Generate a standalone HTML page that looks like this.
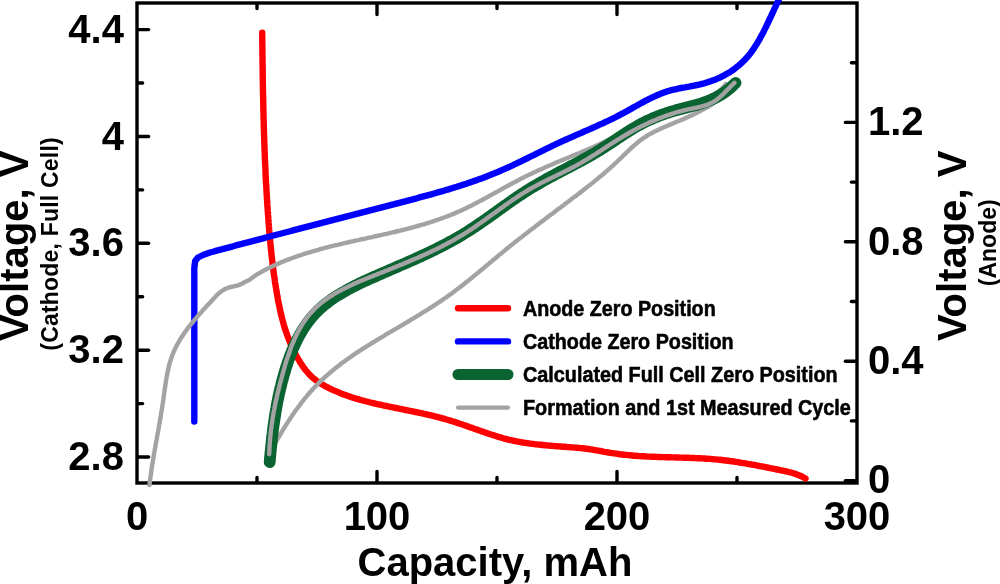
<!DOCTYPE html><html><head><meta charset="utf-8"><title>chart</title><style>html,body{margin:0;padding:0;background:#fff}svg{display:block}text{font-family:"Liberation Sans",sans-serif;font-weight:bold;fill:#000}</style></head><body>
<svg width="1000" height="584" viewBox="0 0 1000 584">
<rect width="1000" height="584" fill="#fff"/>
<g stroke="#000" stroke-width="3.4" fill="none" stroke-linecap="round">
<rect x="137" y="3" width="720" height="480"/>
<path d="M257.0 481.5 V477.4 M257.0 4.5 V8.6"/>
<path d="M377.0 481.5 V471.4 M377.0 4.5 V14.6"/>
<path d="M497.0 481.5 V477.4 M497.0 4.5 V8.6"/>
<path d="M617.0 481.5 V471.4 M617.0 4.5 V14.6"/>
<path d="M737.0 481.5 V477.4 M737.0 4.5 V8.6"/>
<path d="M138.5 457.0 H148.6"/>
<path d="M138.5 403.6 H142.6"/>
<path d="M138.5 350.2 H148.6"/>
<path d="M138.5 296.7 H142.6"/>
<path d="M138.5 243.3 H148.6"/>
<path d="M138.5 189.9 H142.6"/>
<path d="M138.5 136.5 H148.6"/>
<path d="M138.5 83.0 H142.6"/>
<path d="M138.5 29.6 H148.6"/>
<path d="M855.5 480.6 H845.4"/>
<path d="M855.5 420.9 H851.4"/>
<path d="M855.5 361.2 H845.4"/>
<path d="M855.5 301.5 H851.4"/>
<path d="M855.5 241.8 H845.4"/>
<path d="M855.5 182.1 H851.4"/>
<path d="M855.5 122.4 H845.4"/>
<path d="M855.5 62.7 H851.4"/>
</g>
<path d="M262.2 32.7L262.2 34.7L262.2 36.7L262.3 38.7L262.3 40.7L262.3 42.7L262.3 44.7L262.4 46.7L262.4 48.7L262.4 50.7L262.4 52.7L262.4 54.7L262.5 56.7L262.5 58.7L262.5 60.7L262.5 62.7L262.6 64.7L262.6 66.7L262.6 68.7L262.7 70.7L262.7 72.7L262.7 74.7L262.7 76.7L262.8 78.7L262.8 80.7L262.8 82.7L262.9 84.7L262.9 86.7L262.9 88.7L263.0 90.7L263.0 92.7L263.1 94.7L263.1 96.7L263.1 98.7L263.2 100.7L263.2 102.7L263.3 104.7L263.3 106.7L263.4 108.7L263.4 110.7L263.5 112.7L263.5 114.7L263.5 116.7L263.6 118.7L263.7 120.7L263.7 122.7L263.8 124.7L263.8 126.6L263.9 128.6L263.9 130.6L264.0 132.6L264.1 134.6L264.1 136.6L264.2 138.6L264.3 140.6L264.3 142.6L264.4 144.6L264.5 146.6L264.5 148.6L264.6 150.6L264.7 152.6L264.8 154.6L264.8 156.6L264.9 158.6L265.0 160.6L265.1 162.6L265.2 164.6L265.3 166.6L265.4 168.6L265.5 170.6L265.5 172.6L265.6 174.6L265.7 176.6L265.8 178.6L265.9 180.6L266.0 182.6L266.2 184.6L266.3 186.6L266.4 188.6L266.5 190.6L266.6 192.6L266.7 194.6L266.8 196.6L267.0 198.6L267.1 200.5L267.2 202.5L267.3 204.5L267.5 206.5L267.6 208.5L267.7 210.5L267.9 212.5L268.0 214.5L268.2 216.5L268.3 218.5L268.5 220.5L268.6 222.5L268.8 224.5L268.9 226.5L269.1 228.5L269.2 230.5L269.4 232.4L269.6 234.4L269.7 236.4L269.9 238.4L270.1 240.4L270.3 242.4L270.5 244.4L270.7 246.4L270.9 248.4L271.1 250.4L271.3 252.3L271.5 254.3L271.7 256.3L271.9 258.3L272.2 260.3L272.4 262.3L272.6 264.3L272.9 266.2L273.1 268.2L273.4 270.2L273.6 272.2L273.9 274.2L274.2 276.2L274.5 278.1L274.8 280.1L275.0 282.1L275.3 284.1L275.7 286.0L276.0 288.0L276.3 290.0L276.6 292.0L277.0 293.9L277.3 295.9L277.7 297.9L278.0 299.8L278.4 301.8L278.8 303.8L279.2 305.7L279.6 307.7L280.0 309.7L280.4 311.6L280.9 313.6L281.4 315.5L281.8 317.4L282.3 319.4L282.9 321.3L283.4 323.2L283.9 325.1L284.5 327.1L285.1 329.0L285.7 330.9L286.4 332.7L287.0 334.6L287.7 336.5L288.4 338.4L289.1 340.2L289.9 342.1L290.6 343.9L291.4 345.8L292.3 347.6L293.1 349.4L294.0 351.2L294.9 353.0L295.8 354.8L296.8 356.5L297.8 358.3L298.8 360.0L299.8 361.7L300.9 363.4L302.0 365.1L303.1 366.8L304.3 368.4L305.5 370.0L306.8 371.5L308.1 373.0L309.4 374.5L310.8 375.9L312.3 377.3L313.8 378.6L315.3 379.8L316.9 381.0L318.5 382.2L320.2 383.3L321.9 384.3L323.7 385.3L325.4 386.3L327.2 387.2L329.0 388.1L330.8 389.0L332.6 389.8L334.4 390.6L336.3 391.4L338.1 392.2L340.0 393.0L341.8 393.7L343.7 394.4L345.5 395.1L347.4 395.8L349.3 396.4L351.2 397.1L353.1 397.7L355.0 398.3L356.9 398.8L358.8 399.4L360.8 400.0L362.7 400.5L364.6 401.0L366.6 401.5L368.5 402.0L370.5 402.5L372.4 403.0L374.4 403.4L376.3 403.9L378.3 404.3L380.2 404.7L382.2 405.2L384.1 405.6L386.1 406.0L388.1 406.4L390.0 406.8L392.0 407.2L394.0 407.6L395.9 408.0L397.9 408.4L399.9 408.8L401.8 409.2L403.8 409.6L405.7 410.0L407.7 410.4L409.7 410.8L411.6 411.2L413.6 411.6L415.5 412.0L417.5 412.4L419.4 412.8L421.4 413.2L423.3 413.7L425.2 414.1L427.2 414.5L429.1 415.0L431.1 415.4L433.0 415.9L434.9 416.4L436.8 416.9L438.8 417.4L440.7 417.9L442.6 418.4L444.5 418.9L446.4 419.5L448.4 420.0L450.3 420.6L452.2 421.2L454.1 421.8L456.0 422.4L457.9 423.1L459.8 423.7L461.7 424.3L463.6 425.0L465.5 425.6L467.3 426.3L469.2 427.0L471.1 427.6L473.0 428.3L474.9 429.0L476.8 429.6L478.7 430.3L480.6 431.0L482.5 431.6L484.4 432.3L486.3 432.9L488.2 433.6L490.1 434.2L492.0 434.8L493.9 435.4L495.8 436.0L497.7 436.6L499.6 437.2L501.5 437.7L503.5 438.3L505.4 438.8L507.3 439.3L509.3 439.8L511.2 440.2L513.2 440.6L515.1 441.1L517.1 441.4L519.0 441.8L521.0 442.2L523.0 442.5L524.9 442.8L526.9 443.1L528.9 443.4L530.9 443.7L532.9 443.9L534.8 444.2L536.8 444.4L538.8 444.6L540.8 444.8L542.8 445.0L544.8 445.2L546.8 445.4L548.8 445.6L550.8 445.7L552.8 445.9L554.8 446.1L556.8 446.2L558.8 446.4L560.8 446.5L562.8 446.7L564.8 446.8L566.8 447.0L568.8 447.1L570.7 447.3L572.7 447.4L574.7 447.6L576.7 447.7L578.7 447.9L580.7 448.1L582.6 448.3L584.6 448.5L586.6 448.8L588.6 449.0L590.5 449.3L592.5 449.6L594.5 450.0L596.5 450.3L598.4 450.7L600.4 451.0L602.4 451.4L604.3 451.8L606.3 452.1L608.3 452.5L610.3 452.8L612.2 453.1L614.2 453.4L616.2 453.7L618.2 454.0L620.1 454.3L622.1 454.5L624.1 454.7L626.1 454.9L628.1 455.1L630.1 455.3L632.1 455.5L634.0 455.7L636.0 455.8L638.0 456.0L640.0 456.1L642.0 456.2L644.0 456.3L646.0 456.5L648.0 456.6L650.0 456.6L652.0 456.7L654.0 456.8L656.0 456.9L658.0 457.0L660.0 457.0L662.0 457.1L664.0 457.1L666.0 457.2L668.0 457.3L670.0 457.3L672.0 457.4L674.0 457.4L676.0 457.5L678.0 457.5L680.0 457.6L682.0 457.6L684.0 457.7L686.0 457.8L688.0 457.8L690.0 457.9L692.0 458.0L694.0 458.0L695.9 458.1L697.9 458.2L699.9 458.3L701.9 458.4L703.9 458.5L705.9 458.7L707.9 458.8L709.9 458.9L711.9 459.1L713.9 459.3L715.9 459.4L717.9 459.6L719.9 459.8L721.9 460.0L723.8 460.3L725.8 460.5L727.8 460.7L729.8 461.0L731.8 461.3L733.8 461.5L735.7 461.8L737.7 462.1L739.7 462.5L741.7 462.8L743.6 463.1L745.6 463.4L747.6 463.8L749.6 464.1L751.5 464.5L753.5 464.8L755.5 465.2L757.4 465.6L759.4 466.0L761.4 466.3L763.3 466.7L765.3 467.1L767.3 467.5L769.2 467.9L771.2 468.3L773.1 468.7L775.1 469.1L777.1 469.5L779.0 469.9L781.0 470.3L782.9 470.7L784.9 471.1L786.8 471.5L788.7 472.0L790.7 472.5L792.6 473.0L794.5 473.6L796.4 474.2L798.2 474.9L800.1 475.7L801.9 476.5L803.7 477.5L805.5 478.5" fill="none" stroke="#ff0000" stroke-width="6.4" stroke-linecap="round" stroke-linejoin="round" />
<path d="M194.3 421.5L194.3 300.0L194.3 268.0L195.2 261.0L198.0 257.5L203.0 255.0L210.0 252.5L211.9 252.0L213.9 251.5L215.8 250.9L217.7 250.4L219.6 249.9L221.6 249.4L223.5 248.8L225.4 248.3L227.4 247.8L229.3 247.3L231.2 246.8L233.1 246.3L235.1 245.7L237.0 245.2L238.9 244.7L240.9 244.2L242.8 243.7L244.7 243.2L246.6 242.7L248.6 242.1L250.5 241.6L252.4 241.1L254.4 240.6L256.3 240.1L258.2 239.6L260.1 239.1L262.1 238.6L264.0 238.1L265.9 237.5L267.9 237.0L269.8 236.5L271.7 236.0L273.7 235.5L275.6 235.0L277.5 234.5L279.5 234.0L281.4 233.5L283.3 233.0L285.2 232.5L287.2 232.0L289.1 231.5L291.0 231.0L293.0 230.4L294.9 229.9L296.8 229.4L298.8 228.9L300.7 228.4L302.6 227.9L304.6 227.4L306.5 226.9L308.4 226.4L310.3 225.9L312.3 225.4L314.2 224.9L316.1 224.4L318.1 223.9L320.0 223.4L321.9 222.9L323.9 222.4L325.8 221.9L327.7 221.4L329.7 220.9L331.6 220.4L333.5 219.9L335.5 219.4L337.4 218.9L339.3 218.4L341.3 217.9L343.2 217.4L345.1 216.9L347.1 216.4L349.0 215.9L350.9 215.4L352.9 214.9L354.8 214.4L356.7 213.9L358.7 213.4L360.6 212.9L362.5 212.4L364.5 211.9L366.4 211.4L368.3 210.9L370.2 210.4L372.2 209.9L374.1 209.4L376.0 208.9L378.0 208.4L379.9 207.9L381.8 207.4L383.8 206.9L385.7 206.4L387.7 205.8L389.6 205.3L391.5 204.8L393.5 204.3L395.4 203.8L397.3 203.3L399.3 202.8L401.2 202.3L403.1 201.8L405.1 201.3L407.0 200.8L408.9 200.3L410.9 199.8L412.8 199.3L414.7 198.8L416.7 198.3L418.6 197.7L420.5 197.2L422.4 196.7L424.4 196.2L426.3 195.7L428.2 195.1L430.2 194.6L432.1 194.1L434.0 193.5L435.9 193.0L437.8 192.4L439.8 191.9L441.7 191.3L443.6 190.8L445.5 190.2L447.4 189.7L449.3 189.1L451.2 188.5L453.2 187.9L455.1 187.3L457.0 186.7L458.9 186.1L460.8 185.5L462.7 184.9L464.6 184.3L466.4 183.7L468.3 183.0L470.2 182.4L472.1 181.8L474.0 181.1L475.9 180.4L477.7 179.8L479.6 179.1L481.5 178.4L483.3 177.7L485.2 177.0L487.1 176.3L488.9 175.6L490.8 174.8L492.6 174.1L494.5 173.3L496.3 172.6L498.1 171.8L500.0 171.0L501.8 170.2L503.6 169.4L505.4 168.6L507.3 167.8L509.1 167.0L510.9 166.1L512.7 165.3L514.5 164.4L516.3 163.6L518.1 162.7L519.9 161.8L521.7 161.0L523.5 160.1L525.3 159.2L527.1 158.3L528.9 157.4L530.7 156.5L532.5 155.6L534.3 154.8L536.1 153.9L537.9 153.0L539.7 152.1L541.5 151.2L543.3 150.3L545.1 149.4L546.9 148.5L548.7 147.7L550.5 146.8L552.3 145.9L554.1 145.1L555.9 144.2L557.7 143.4L559.5 142.5L561.3 141.7L563.1 140.8L564.9 140.0L566.8 139.2L568.6 138.4L570.4 137.6L572.2 136.8L574.1 136.0L575.9 135.2L577.7 134.4L579.6 133.6L581.4 132.8L583.2 132.0L585.0 131.2L586.9 130.4L588.7 129.6L590.5 128.8L592.4 128.0L594.2 127.2L596.0 126.4L597.8 125.5L599.6 124.7L601.5 123.9L603.3 123.1L605.1 122.2L606.9 121.4L608.7 120.5L610.5 119.6L612.3 118.8L614.1 117.9L615.9 117.0L617.6 116.1L619.4 115.1L621.2 114.2L622.9 113.3L624.7 112.3L626.5 111.4L628.2 110.4L630.0 109.4L631.7 108.4L633.5 107.4L635.2 106.5L637.0 105.5L638.7 104.5L640.5 103.5L642.2 102.6L644.0 101.6L645.7 100.7L647.5 99.8L649.3 98.9L651.1 98.0L652.9 97.2L654.7 96.3L656.5 95.5L658.3 94.7L660.1 94.0L662.0 93.3L663.9 92.6L665.7 91.9L667.6 91.3L669.5 90.7L671.4 90.2L673.4 89.7L675.3 89.3L677.3 88.8L679.2 88.4L681.2 88.0L683.2 87.6L685.2 87.3L687.2 86.9L689.2 86.6L691.1 86.2L693.1 85.8L695.1 85.4L697.1 85.0L699.1 84.6L701.0 84.1L703.0 83.6L704.9 83.1L706.8 82.5L708.7 81.9L710.6 81.3L712.5 80.6L714.3 79.9L716.2 79.2L718.0 78.4L719.8 77.6L721.6 76.7L723.3 75.8L725.0 74.9L726.8 73.9L728.4 72.9L730.1 71.9L731.7 70.8L733.4 69.7L734.9 68.5L736.5 67.3L738.0 66.1L739.5 64.8L741.0 63.5L742.4 62.2L743.8 60.8L745.2 59.4L746.5 57.9L747.8 56.5L749.1 54.9L750.3 53.4L751.5 51.8L752.7 50.1L753.8 48.5L754.9 46.8L756.0 45.1L757.1 43.4L758.1 41.6L759.2 39.9L760.2 38.1L761.1 36.3L762.1 34.5L763.1 32.7L764.0 30.9L764.9 29.0L765.8 27.2L766.7 25.3L767.6 23.5L768.5 21.7L769.3 19.8L770.2 18.0L771.1 16.1L771.9 14.3L772.8 12.5L773.6 10.7L774.4 8.9L775.3 7.1L776.1 5.3L777.0 3.5L777.8 1.7L778.6 -0.0L779.5 -1.8L780.3 -3.5L781.2 -5.3L782.0 -7.0" fill="none" stroke="#0000ff" stroke-width="6.4" stroke-linecap="round" stroke-linejoin="round" />
<path d="M149.5 485.0L149.7 483.0L150.0 480.9L150.2 478.9L150.5 476.9L150.8 474.9L151.1 472.9L151.3 470.9L151.6 468.9L151.9 466.9L152.2 464.9L152.6 463.0L152.9 461.0L153.2 459.0L153.5 457.1L153.8 455.1L154.2 453.2L154.5 451.3L154.8 449.3L155.2 447.4L155.5 445.4L155.9 443.5L156.2 441.6L156.6 439.7L156.9 437.7L157.3 435.8L157.6 433.9L158.0 431.9L158.3 430.0L158.7 428.1L159.0 426.1L159.3 424.2L159.7 422.2L160.0 420.3L160.4 418.3L160.7 416.4L161.0 414.4L161.3 412.5L161.7 410.5L162.0 408.5L162.3 406.5L162.6 404.5L162.9 402.5L163.2 400.5L163.5 398.5L163.7 396.5L164.0 394.5L164.3 392.5L164.6 390.4L164.9 388.4L165.2 386.4L165.5 384.3L165.8 382.3L166.1 380.3L166.4 378.2L166.8 376.2L167.2 374.2L167.6 372.2L168.0 370.2L168.4 368.3L168.9 366.3L169.4 364.4L169.9 362.4L170.5 360.5L171.1 358.6L171.8 356.8L172.4 354.9L173.2 353.1L173.9 351.3L174.7 349.5L175.6 347.7L176.5 346.0L177.4 344.3L178.3 342.6L179.3 340.9L180.3 339.2L181.3 337.5L182.4 335.9L183.5 334.3L184.6 332.6L185.8 331.0L186.9 329.5L188.1 327.9L189.3 326.3L190.5 324.7L191.8 323.2L193.1 321.7L194.3 320.1L195.6 318.6L196.9 317.1L198.2 315.6L199.6 314.1L200.9 312.6L202.2 311.1L203.6 309.6L205.0 308.1L206.3 306.6L207.7 305.1L209.0 303.7L210.4 302.2L211.7 300.7L213.1 299.2L214.5 297.7L215.8 296.3L217.2 294.9L218.7 293.5L220.2 292.2L221.8 291.0L223.4 290.0L225.2 289.0L227.0 288.2L228.9 287.5L230.8 287.0L232.8 286.6L234.7 286.1L236.7 285.7L238.6 285.1L240.4 284.4L242.2 283.5L244.0 282.5L245.8 281.6L247.6 280.8L249.4 279.9L251.0 278.8L252.6 277.6L254.2 276.3L255.8 275.2L257.5 274.1L259.2 273.1L261.0 272.1L262.7 271.2L264.5 270.2L266.3 269.3L268.0 268.4L269.8 267.5L271.6 266.7L273.4 265.8L275.2 265.0L277.0 264.2L278.9 263.4L280.7 262.6L282.5 261.8L284.4 261.1L286.2 260.3L288.1 259.6L289.9 258.9L291.8 258.2L293.6 257.5L295.5 256.9L297.4 256.2L299.3 255.6L301.2 255.0L303.1 254.3L304.9 253.7L306.8 253.1L308.8 252.5L310.7 252.0L312.6 251.4L314.5 250.8L316.4 250.3L318.3 249.8L320.3 249.2L322.2 248.7L324.1 248.2L326.1 247.7L328.0 247.2L329.9 246.7L331.9 246.2L333.8 245.7L335.8 245.2L337.7 244.8L339.6 244.3L341.6 243.8L343.6 243.4L345.5 242.9L347.5 242.5L349.4 242.0L351.4 241.6L353.3 241.2L355.3 240.7L357.2 240.3L359.2 239.9L361.2 239.4L363.1 239.0L365.1 238.6L367.0 238.1L369.0 237.7L371.0 237.3L372.9 236.8L374.9 236.4L376.8 236.0L378.8 235.5L380.8 235.1L382.7 234.7L384.7 234.2L386.6 233.8L388.6 233.3L390.5 232.9L392.5 232.4L394.4 232.0L396.4 231.5L398.3 231.0L400.3 230.6L402.2 230.1L404.1 229.6L406.1 229.1L408.0 228.6L409.9 228.1L411.9 227.6L413.8 227.1L415.7 226.5L417.6 226.0L419.5 225.5L421.5 224.9L423.4 224.4L425.3 223.8L427.2 223.2L429.1 222.6L431.0 222.0L432.9 221.4L434.7 220.8L436.6 220.1L438.5 219.5L440.4 218.8L442.2 218.2L444.1 217.5L446.0 216.8L447.8 216.1L449.7 215.4L451.5 214.6L453.3 213.9L455.2 213.1L457.0 212.3L458.8 211.5L460.6 210.7L462.4 209.9L464.2 209.1L466.0 208.2L467.8 207.3L469.6 206.4L471.4 205.6L473.2 204.7L474.9 203.7L476.7 202.8L478.5 201.9L480.3 200.9L482.0 200.0L483.8 199.0L485.5 198.1L487.3 197.1L489.0 196.2L490.8 195.2L492.6 194.2L494.3 193.2L496.1 192.3L497.8 191.3L499.6 190.3L501.3 189.3L503.1 188.4L504.8 187.4L506.6 186.4L508.3 185.5L510.1 184.5L511.9 183.6L513.6 182.6L515.4 181.7L517.2 180.8L518.9 179.8L520.7 178.9L522.5 178.0L524.3 177.1L526.1 176.3L527.8 175.4L529.6 174.5L531.4 173.7L533.2 172.8L535.0 172.0L536.8 171.1L538.6 170.3L540.5 169.5L542.3 168.7L544.1 167.9L545.9 167.0L547.7 166.2L549.5 165.5L551.4 164.7L553.2 163.9L555.0 163.1L556.8 162.3L558.7 161.5L560.5 160.8L562.3 160.0L564.2 159.2L566.0 158.5L567.9 157.7L569.7 157.0L571.5 156.2L573.4 155.4L575.2 154.7L577.1 153.9L578.9 153.2L580.7 152.4L582.6 151.6L584.4 150.8L586.2 150.0L588.1 149.3L589.9 148.5L591.7 147.7L593.5 146.9L595.4 146.0L597.2 145.2L599.0 144.4L600.8 143.5L602.6 142.7L604.4 141.8L606.2 140.9L608.0 140.0L609.8 139.1L611.6 138.2L613.3 137.3L615.1 136.4L616.9 135.5L618.7 134.5L620.4 133.6L622.2 132.7L624.0 131.7L625.7 130.8L627.5 129.8L629.2 128.9L631.0 127.9L632.8 127.0L634.5 126.0L636.3 125.0L638.0 124.1L639.8 123.1L641.5 122.2L643.3 121.2L645.0 120.3L646.8 119.4L648.6 118.4L650.3 117.5L652.1 116.6L653.8 115.7L655.6 114.8L657.4 113.9L659.2 113.1L661.0 112.2L662.8 111.5L664.6 110.7L666.5 110.0L668.4 109.3L670.3 108.7L672.2 108.1L674.1 107.5L676.1 107.0L678.0 106.5L680.0 106.0L681.9 105.5L683.9 105.0L685.9 104.5L687.8 104.0L689.8 103.5L691.7 103.0L693.7 102.5L695.6 101.9L697.5 101.4L699.5 100.8L701.3 100.2L703.2 99.5L705.1 98.8L706.9 98.1L708.7 97.3L710.4 96.4L712.2 95.5L713.9 94.6L715.5 93.5L717.2 92.4L718.8 91.2L720.3 90.0L721.8 88.6L723.3 87.2L724.7 85.6L726.0 84.0" fill="none" stroke="#a3a3a3" stroke-width="4.4" stroke-linecap="round" stroke-linejoin="round" />
<path d="M269.2 454.2L270.1 452.5L271.1 450.7L272.0 449.0L273.0 447.2L273.9 445.5L274.9 443.8L275.9 442.0L276.9 440.3L277.9 438.5L278.9 436.8L279.9 435.1L280.9 433.4L281.9 431.6L283.0 429.9L284.0 428.2L285.1 426.5L286.1 424.8L287.2 423.1L288.3 421.4L289.4 419.7L290.5 418.1L291.6 416.4L292.7 414.7L293.9 413.1L295.0 411.4L296.2 409.8L297.4 408.2L298.6 406.6L299.8 405.0L301.0 403.4L302.2 401.8L303.4 400.2L304.7 398.6L306.0 397.1L307.2 395.6L308.5 394.0L309.8 392.5L311.2 391.0L312.5 389.5L313.8 388.1L315.2 386.6L316.6 385.2L318.0 383.8L319.4 382.4L320.8 381.0L322.2 379.6L323.7 378.3L325.1 376.9L326.6 375.6L328.1 374.3L329.6 373.0L331.1 371.7L332.7 370.4L334.2 369.2L335.8 367.9L337.3 366.7L338.9 365.5L340.5 364.2L342.1 363.0L343.7 361.9L345.3 360.7L346.9 359.5L348.5 358.4L350.2 357.2L351.8 356.1L353.5 354.9L355.1 353.8L356.8 352.7L358.5 351.6L360.2 350.5L361.8 349.4L363.5 348.3L365.2 347.3L366.9 346.2L368.6 345.1L370.3 344.1L372.0 343.0L373.8 342.0L375.5 340.9L377.2 339.9L378.9 338.9L380.6 337.8L382.3 336.8L384.1 335.8L385.8 334.7L387.5 333.7L389.2 332.7L391.0 331.7L392.7 330.7L394.4 329.6L396.1 328.6L397.9 327.6L399.6 326.6L401.3 325.6L403.0 324.6L404.7 323.5L406.5 322.5L408.2 321.5L409.9 320.5L411.6 319.4L413.3 318.4L415.0 317.4L416.7 316.4L418.4 315.3L420.1 314.3L421.8 313.2L423.5 312.2L425.2 311.1L426.9 310.1L428.6 309.0L430.3 307.9L431.9 306.9L433.6 305.8L435.3 304.7L436.9 303.6L438.6 302.5L440.2 301.4L441.9 300.3L443.5 299.1L445.2 298.0L446.8 296.9L448.4 295.7L450.1 294.6L451.7 293.4L453.3 292.2L454.9 291.0L456.5 289.8L458.1 288.6L459.6 287.4L461.2 286.2L462.8 285.0L464.4 283.7L465.9 282.5L467.5 281.2L469.1 280.0L470.6 278.7L472.2 277.5L473.7 276.2L475.3 274.9L476.8 273.7L478.4 272.4L479.9 271.1L481.5 269.8L483.0 268.6L484.5 267.3L486.1 266.0L487.6 264.7L489.2 263.4L490.7 262.1L492.2 260.8L493.8 259.6L495.3 258.3L496.9 257.0L498.4 255.7L499.9 254.4L501.5 253.2L503.0 251.9L504.6 250.6L506.1 249.3L507.7 248.1L509.2 246.8L510.8 245.6L512.4 244.3L513.9 243.1L515.5 241.8L517.1 240.6L518.6 239.4L520.2 238.1L521.8 236.9L523.3 235.7L524.9 234.4L526.5 233.2L528.1 232.0L529.7 230.8L531.2 229.6L532.8 228.4L534.4 227.2L536.0 225.9L537.6 224.7L539.2 223.5L540.8 222.3L542.4 221.1L544.0 219.9L545.5 218.7L547.1 217.5L548.7 216.3L550.3 215.1L551.9 213.9L553.5 212.7L555.1 211.5L556.7 210.3L558.3 209.1L559.9 207.9L561.5 206.7L563.1 205.5L564.7 204.3L566.3 203.1L567.8 201.9L569.4 200.7L571.0 199.5L572.6 198.3L574.2 197.1L575.8 195.9L577.4 194.7L579.0 193.5L580.6 192.2L582.1 191.0L583.7 189.8L585.3 188.6L586.9 187.3L588.4 186.1L590.0 184.9L591.6 183.6L593.1 182.4L594.7 181.1L596.2 179.9L597.8 178.6L599.3 177.3L600.8 176.1L602.4 174.8L603.9 173.5L605.4 172.2L606.9 170.9L608.4 169.6L609.9 168.3L611.4 166.9L612.9 165.6L614.3 164.2L615.8 162.9L617.3 161.5L618.7 160.2L620.1 158.8L621.6 157.4L623.0 156.0L624.4 154.6L625.8 153.2L627.3 151.8L628.7 150.4L630.1 149.1L631.6 147.7L633.0 146.4L634.5 145.1L636.0 143.8L637.5 142.5L639.1 141.3L640.7 140.1L642.3 138.9L643.9 137.8L645.5 136.8L647.2 135.7L648.9 134.7L650.6 133.7L652.4 132.8L654.1 131.8L655.9 130.9L657.7 130.1L659.5 129.2L661.4 128.4L663.2 127.5L665.1 126.7L666.9 125.9L668.8 125.1L670.6 124.4L672.5 123.6L674.4 122.8L676.2 122.0L678.1 121.3L680.0 120.5L681.9 119.7L683.7 118.9L685.6 118.1L687.4 117.3L689.2 116.4L691.1 115.6L692.9 114.7L694.7 113.9L696.5 113.0L698.3 112.1L700.0 111.2L701.8 110.2L703.5 109.3L705.3 108.3L707.0 107.3L708.7 106.3L710.4 105.2L712.0 104.1L713.6 103.0L715.3 101.9L716.9 100.7L718.4 99.5L720.0 98.3L721.5 97.0L723.0 95.7L724.5 94.4L725.9 93.0L727.3 91.6L728.7 90.2L730.1 88.7L731.4 87.2L732.7 85.6L734.0 84.0" fill="none" stroke="#a3a3a3" stroke-width="4.4" stroke-linecap="round" stroke-linejoin="round" />
<path d="M269.7 462.1L269.9 460.1L270.0 458.1L270.2 456.1L270.4 454.1L270.6 452.0L270.8 450.0L271.0 448.1L271.2 446.1L271.4 444.1L271.6 442.1L271.8 440.1L272.0 438.1L272.2 436.1L272.5 434.2L272.7 432.2L272.9 430.2L273.2 428.3L273.4 426.3L273.7 424.3L274.0 422.4L274.3 420.4L274.6 418.5L274.9 416.5L275.2 414.5L275.5 412.6L275.8 410.6L276.2 408.7L276.5 406.7L276.9 404.8L277.2 402.9L277.6 400.9L278.0 399.0L278.4 397.0L278.8 395.1L279.2 393.1L279.7 391.2L280.1 389.3L280.6 387.3L281.1 385.4L281.5 383.4L282.0 381.5L282.6 379.6L283.1 377.6L283.6 375.7L284.2 373.7L284.8 371.8L285.3 369.9L285.9 367.9L286.6 366.0L287.2 364.1L287.8 362.1L288.5 360.2L289.2 358.3L289.9 356.4L290.6 354.5L291.4 352.6L292.1 350.7L292.9 348.9L293.7 347.0L294.6 345.2L295.4 343.3L296.3 341.5L297.2 339.7L298.1 337.9L299.0 336.2L300.0 334.4L301.0 332.7L302.0 331.0L303.0 329.3L304.1 327.6L305.2 326.0L306.3 324.4L307.4 322.8L308.6 321.2L309.8 319.7L311.0 318.1L312.3 316.7L313.6 315.2L314.9 313.8L316.3 312.3L317.6 311.0L319.0 309.6L320.5 308.3L321.9 307.0L323.4 305.7L324.9 304.5L326.5 303.3L328.0 302.1L329.6 300.9L331.2 299.7L332.8 298.6L334.4 297.5L336.1 296.4L337.8 295.3L339.5 294.3L341.2 293.3L342.9 292.3L344.7 291.3L346.4 290.3L348.2 289.3L350.0 288.4L351.8 287.4L353.6 286.5L355.4 285.6L357.2 284.7L359.0 283.8L360.8 282.9L362.7 282.0L364.5 281.2L366.4 280.3L368.2 279.5L370.1 278.6L372.0 277.8L373.8 277.0L375.7 276.2L377.5 275.4L379.4 274.5L381.3 273.7L383.1 272.9L385.0 272.1L386.8 271.3L388.7 270.5L390.5 269.7L392.4 268.9L394.2 268.1L396.1 267.3L397.9 266.5L399.7 265.7L401.6 264.9L403.4 264.1L405.2 263.3L407.1 262.5L408.9 261.7L410.7 260.9L412.5 260.1L414.3 259.3L416.1 258.5L417.9 257.6L419.8 256.8L421.6 256.0L423.3 255.2L425.1 254.3L426.9 253.5L428.7 252.6L430.5 251.8L432.3 250.9L434.1 250.1L435.8 249.2L437.6 248.3L439.4 247.4L441.1 246.5L442.9 245.6L444.6 244.7L446.4 243.8L448.1 242.9L449.8 241.9L451.6 241.0L453.3 240.0L455.0 239.1L456.7 238.1L458.4 237.1L460.1 236.1L461.9 235.1L463.5 234.0L465.2 233.0L466.9 232.0L468.6 230.9L470.3 229.8L471.9 228.7L473.6 227.6L475.3 226.5L476.9 225.4L478.6 224.3L480.2 223.2L481.9 222.0L483.5 220.9L485.2 219.7L486.8 218.6L488.5 217.4L490.1 216.3L491.7 215.1L493.4 213.9L495.0 212.8L496.6 211.6L498.3 210.4L499.9 209.2L501.5 208.1L503.2 206.9L504.8 205.7L506.5 204.6L508.1 203.4L509.7 202.2L511.4 201.1L513.0 199.9L514.7 198.8L516.3 197.7L518.0 196.5L519.7 195.4L521.3 194.3L523.0 193.2L524.7 192.1L526.4 191.0L528.0 190.0L529.7 188.9L531.4 187.9L533.1 186.8L534.8 185.8L536.6 184.8L538.3 183.8L540.0 182.8L541.7 181.8L543.5 180.8L545.2 179.9L546.9 178.9L548.7 178.0L550.4 177.0L552.2 176.1L553.9 175.2L555.7 174.2L557.4 173.3L559.2 172.4L560.9 171.4L562.7 170.5L564.5 169.6L566.2 168.7L568.0 167.8L569.7 166.8L571.5 165.9L573.3 165.0L575.0 164.1L576.8 163.1L578.5 162.2L580.3 161.3L582.0 160.3L583.8 159.4L585.5 158.4L587.3 157.4L589.0 156.5L590.7 155.5L592.5 154.5L594.2 153.5L595.9 152.5L597.6 151.4L599.3 150.4L601.0 149.4L602.7 148.3L604.4 147.2L606.1 146.1L607.8 145.0L609.5 143.9L611.2 142.8L612.8 141.7L614.5 140.6L616.2 139.5L617.9 138.3L619.5 137.2L621.2 136.1L622.9 135.0L624.6 133.9L626.3 132.8L628.0 131.7L629.6 130.6L631.3 129.6L633.1 128.5L634.8 127.5L636.5 126.5L638.2 125.5L640.0 124.6L641.7 123.6L643.5 122.7L645.3 121.8L647.1 120.9L648.9 120.1L650.7 119.3L652.5 118.5L654.3 117.7L656.1 117.0L658.0 116.2L659.8 115.5L661.7 114.8L663.6 114.2L665.5 113.5L667.3 112.9L669.2 112.3L671.1 111.7L673.0 111.1L674.9 110.6L676.9 110.0L678.8 109.5L680.7 109.0L682.7 108.5L684.6 108.0L686.5 107.5L688.5 107.0L690.4 106.5L692.3 106.0L694.2 105.5L696.2 105.0L698.1 104.4L700.0 103.9L701.8 103.3L703.7 102.6L705.6 102.0L707.4 101.3L709.2 100.6L711.0 99.8L712.8 99.0L714.6 98.2L716.4 97.3L718.1 96.3L719.8 95.4L721.5 94.4L723.2 93.3L724.8 92.2L726.4 91.0L728.0 89.8L729.6 88.5L731.1 87.2L732.7 85.8L734.1 84.3L735.6 82.8" fill="none" stroke="#0a6432" stroke-width="11.8" stroke-linecap="round" stroke-linejoin="round" />
<path d="M269.2 454.2L269.3 452.1L269.4 450.0L269.5 448.0L269.6 445.9L269.7 443.9L269.9 441.9L270.0 439.9L270.2 437.9L270.4 435.9L270.6 433.9L270.8 431.9L271.0 429.9L271.3 428.0L271.5 426.0L271.8 424.1L272.1 422.1L272.4 420.2L272.7 418.2L273.0 416.3L273.3 414.4L273.6 412.5L274.0 410.6L274.4 408.6L274.7 406.7L275.1 404.8L275.5 402.9L275.9 401.0L276.3 399.1L276.8 397.2L277.2 395.3L277.6 393.3L278.1 391.4L278.6 389.5L279.0 387.6L279.5 385.7L280.0 383.7L280.5 381.8L281.0 379.9L281.6 377.9L282.1 376.0L282.6 374.0L283.2 372.0L283.7 370.1L284.3 368.1L284.8 366.1L285.4 364.2L286.0 362.2L286.6 360.2L287.3 358.3L287.9 356.3L288.6 354.4L289.3 352.4L290.0 350.5L290.7 348.5L291.4 346.6L292.1 344.7L292.9 342.8L293.7 341.0L294.5 339.1L295.4 337.2L296.2 335.4L297.1 333.6L298.0 331.8L299.0 330.1L299.9 328.3L300.9 326.6L302.0 324.9L303.0 323.2L304.1 321.6L305.2 320.0L306.3 318.4L307.5 316.8L308.7 315.3L310.0 313.8L311.3 312.4L312.6 311.0L313.9 309.6L315.3 308.2L316.7 306.9L318.1 305.6L319.6 304.4L321.1 303.1L322.6 301.9L324.2 300.8L325.7 299.6L327.3 298.5L329.0 297.4L330.6 296.3L332.3 295.3L333.9 294.2L335.6 293.2L337.4 292.2L339.1 291.3L340.9 290.3L342.6 289.4L344.4 288.5L346.2 287.6L348.0 286.7L349.9 285.8L351.7 284.9L353.5 284.1L355.4 283.3L357.3 282.4L359.1 281.6L361.0 280.8L362.9 280.0L364.8 279.3L366.7 278.5L368.6 277.7L370.5 276.9L372.4 276.2L374.3 275.4L376.2 274.7L378.1 273.9L380.0 273.2L381.9 272.4L383.7 271.7L385.6 270.9L387.5 270.2L389.4 269.4L391.3 268.7L393.1 267.9L395.0 267.2L396.9 266.4L398.7 265.7L400.6 264.9L402.4 264.2L404.3 263.4L406.1 262.6L408.0 261.9L409.8 261.1L411.6 260.3L413.5 259.5L415.3 258.8L417.1 258.0L418.9 257.2L420.8 256.4L422.6 255.6L424.4 254.8L426.2 253.9L428.0 253.1L429.8 252.3L431.6 251.4L433.3 250.6L435.1 249.7L436.9 248.9L438.7 248.0L440.4 247.1L442.2 246.2L443.9 245.3L445.7 244.4L447.4 243.5L449.2 242.5L450.9 241.6L452.6 240.6L454.4 239.7L456.1 238.7L457.8 237.7L459.5 236.7L461.2 235.7L462.9 234.6L464.6 233.6L466.3 232.5L467.9 231.5L469.6 230.4L471.3 229.3L472.9 228.2L474.6 227.1L476.3 225.9L477.9 224.8L479.5 223.6L481.2 222.5L482.8 221.3L484.5 220.2L486.1 219.0L487.7 217.8L489.4 216.6L491.0 215.4L492.6 214.3L494.3 213.1L495.9 211.9L497.5 210.7L499.2 209.5L500.8 208.4L502.5 207.2L504.1 206.0L505.7 204.8L507.4 203.7L509.0 202.5L510.7 201.4L512.3 200.2L514.0 199.1L515.7 198.0L517.3 196.9L519.0 195.8L520.7 194.7L522.4 193.6L524.1 192.6L525.8 191.5L527.5 190.5L529.2 189.5L530.9 188.5L532.7 187.5L534.4 186.6L536.2 185.6L537.9 184.7L539.7 183.8L541.4 182.9L543.2 182.0L545.0 181.1L546.8 180.2L548.6 179.3L550.3 178.5L552.1 177.6L553.9 176.7L555.7 175.9L557.5 175.0L559.3 174.1L561.1 173.3L562.8 172.4L564.6 171.5L566.4 170.6L568.2 169.7L570.0 168.8L571.7 167.9L573.5 167.0L575.2 166.1L577.0 165.1L578.7 164.1L580.5 163.2L582.2 162.2L583.9 161.1L585.7 160.1L587.4 159.1L589.1 158.0L590.8 157.0L592.5 155.9L594.2 154.8L595.9 153.8L597.6 152.7L599.3 151.6L601.0 150.5L602.7 149.4L604.3 148.3L606.0 147.2L607.7 146.1L609.4 145.0L611.1 143.9L612.8 142.9L614.5 141.8L616.2 140.7L617.9 139.6L619.6 138.6L621.3 137.5L623.0 136.5L624.8 135.5L626.5 134.5L628.2 133.5L629.9 132.5L631.7 131.5L633.4 130.5L635.2 129.6L636.9 128.6L638.7 127.7L640.5 126.8L642.3 125.9L644.0 125.1L645.8 124.2L647.6 123.4L649.4 122.5L651.2 121.7L653.1 120.9L654.9 120.2L656.7 119.4L658.5 118.6L660.4 117.9L662.2 117.2L664.1 116.5L666.0 115.8L667.8 115.2L669.7 114.6L671.6 113.9L673.5 113.3L675.4 112.7L677.3 112.2L679.2 111.6L681.1 111.1L683.1 110.6L685.0 110.1L686.9 109.7L688.9 109.2L690.9 108.8L692.8 108.4L694.8 108.0L696.8 107.6L698.7 107.1L700.6 106.7L702.6 106.2L704.5 105.7L706.4 105.1L708.2 104.4L710.0 103.6L711.8 102.8L713.5 101.9L715.2 100.8L716.8 99.7L718.4 98.4L720.0 97.1L721.5 95.7L723.0 94.3L724.5 92.8L725.9 91.3L727.3 89.8L728.8 88.4L730.2 86.9L731.6 85.5L733.0 84.1L734.4 82.8" fill="none" stroke="#a3a3a3" stroke-width="4.4" stroke-linecap="round" stroke-linejoin="round" />
<path d="M458 308.3 H508" stroke="#ff0000" stroke-width="6.4" stroke-linecap="round"/>
<text x="523" y="316.0" font-size="21.5" stroke="#000" stroke-width="0.55" stroke-linejoin="round" textLength="192.7" lengthAdjust="spacingAndGlyphs">Anode Zero Position</text>
<path d="M458 341.4 H508" stroke="#0000ff" stroke-width="6.4" stroke-linecap="round"/>
<text x="523" y="349.1" font-size="21.5" stroke="#000" stroke-width="0.55" stroke-linejoin="round" textLength="210.5" lengthAdjust="spacingAndGlyphs">Cathode Zero Position</text>
<path d="M458 374.5 H508" stroke="#0a6432" stroke-width="11" stroke-linecap="round"/>
<text x="523" y="382.2" font-size="21.5" stroke="#000" stroke-width="0.55" stroke-linejoin="round" textLength="314.6" lengthAdjust="spacingAndGlyphs">Calculated Full Cell Zero Position</text>
<path d="M458 407.6 H508" stroke="#a3a3a3" stroke-width="4.3" stroke-linecap="round"/>
<text x="523" y="415.3" font-size="21.5" stroke="#000" stroke-width="0.55" stroke-linejoin="round" textLength="327.8" lengthAdjust="spacingAndGlyphs">Formation and 1st Measured Cycle</text>
<text x="123.9" y="42.7" font-size="40" text-anchor="end">4.4</text>
<text x="123.9" y="149.6" font-size="40" text-anchor="end">4</text>
<text x="123.9" y="256.4" font-size="40" text-anchor="end">3.6</text>
<text x="123.9" y="363.2" font-size="40" text-anchor="end">3.2</text>
<text x="123.9" y="470.1" font-size="40" text-anchor="end">2.8</text>
<text x="868" y="493.4" font-size="40" text-anchor="start">0</text>
<text x="868" y="374.0" font-size="40" text-anchor="start">0.4</text>
<text x="868" y="254.6" font-size="40" text-anchor="start">0.8</text>
<text x="868" y="135.2" font-size="40" text-anchor="start">1.2</text>
<text x="137.0" y="530.3" font-size="40" text-anchor="middle">0</text>
<text x="377.0" y="530.3" font-size="40" text-anchor="middle">100</text>
<text x="617.0" y="530.3" font-size="40" text-anchor="middle">200</text>
<text x="857.0" y="530.3" font-size="40" text-anchor="middle">300</text>
<text x="495" y="576" font-size="40" text-anchor="middle">Capacity, mAh</text>
<text transform="translate(28 245.9) rotate(-90)" font-size="40" text-anchor="middle">Voltage, V</text>
<text transform="translate(58 243.9) rotate(-90)" font-size="23" letter-spacing="0.2" text-anchor="middle">(Cathode, Full Cell)</text>
<text transform="translate(965.6 245.9) rotate(-90)" font-size="40" text-anchor="middle">Voltage, V</text>
<text transform="translate(995.5 242.8) rotate(-90)" font-size="23" text-anchor="middle">(Anode)</text>
</svg></body></html>
